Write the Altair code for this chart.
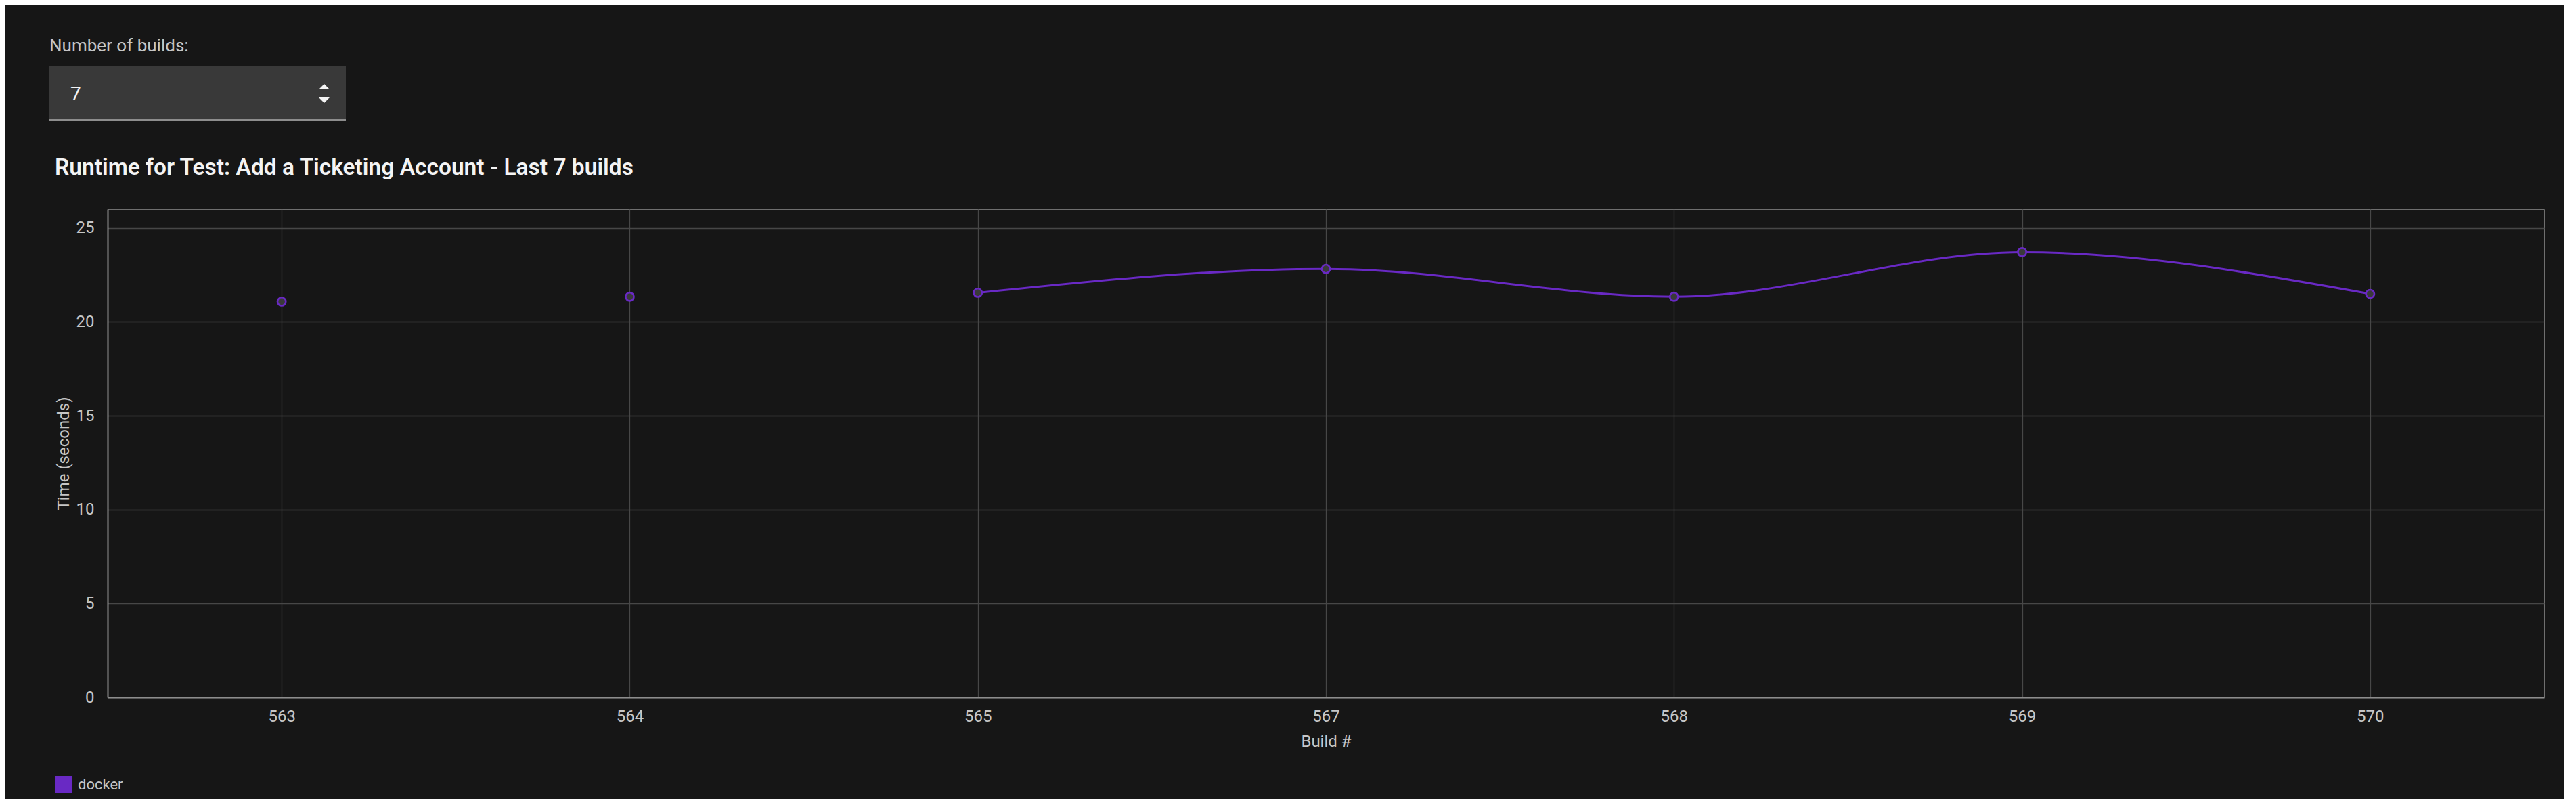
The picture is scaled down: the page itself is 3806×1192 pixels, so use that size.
import altair as alt
import pandas as pd

# ---- data ----
BUILDS = ["563", "564", "565", "567", "568", "569", "570"]
TIMES = [21.08, 21.34, 21.55, 22.82, 21.34, 23.71, 21.49]
CONNECTED = [False, False, True, True, True, True, True]
ENV = "docker"
Y_TICKS = [0, 5, 10, 15, 20, 25]
N_BUILDS = 7
TEST_NAME = "Add a Ticketing Account"
INPUT_LABEL = "Number of builds:"

TITLE = f"Runtime for Test: {TEST_NAME} - Last {N_BUILDS} builds"

df = pd.DataFrame({"build": BUILDS, "time": TIMES, "env": ENV, "connected": CONNECTED})
ui = pd.DataFrame({"label": [INPUT_LABEL], "value": [str(N_BUILDS)], "title": [TITLE]})

FONT = "Roboto"
PURPLE = "#6929c4"
BG = "#161616"
W, H = 3600, 721

x = alt.X(
    "build:O",
    sort=BUILDS,
    scale=alt.Scale(type="point", padding=0.5),
    axis=alt.Axis(
        title="Build #",
        labelAngle=0,
        grid=True,
        ticks=False,
        tickSize=0,
        labelPadding=16,
        titleX=W / 2,
        titleY=72,
        titleBaseline="alphabetic",
    ),
)
y = alt.Y(
    "time:Q",
    scale=alt.Scale(domain=[0, 26], nice=False, zero=True),
    axis=alt.Axis(
        title="Time (seconds)",
        values=Y_TICKS,
        grid=True,
        ticks=False,
        tickSize=0,
        labelPadding=20,
        titleX=-58,
        titleY=H / 2,
        titleBaseline="alphabetic",
    ),
)

line = (
    alt.Chart(df)
    .transform_filter("datum.connected")
    .mark_line(interpolate="monotone", strokeWidth=3)
    .encode(
        x=x,
        y=y,
        color=alt.Color(
            "env:N",
            scale=alt.Scale(range=[PURPLE]),
            legend=alt.Legend(
                title=None,
                orient="none",
                legendX=-78,
                legendY=837,
                symbolType="square",
                symbolSize=625,
                symbolFillColor=PURPLE,
                symbolStrokeColor=PURPLE,
                symbolStrokeWidth=0,
                symbolOpacity=1,
                labelFontSize=22,
                labelFont=FONT,
                labelColor="#c6c6c6",
                labelOffset=9,
                padding=0,
            ),
        ),
    )
)

points = (
    alt.Chart(df)
    .mark_point(filled=True, fill="#3a3a3a", stroke=PURPLE, strokeWidth=2.6, size=150, opacity=1, fillOpacity=1, strokeOpacity=1)
    .encode(x=x, y=y)
)

box = alt.Chart(ui).mark_rect(fill="#393939").encode(
    x=alt.value(-87), x2=alt.value(352), y=alt.value(-211), y2=alt.value(-133)
)
box_line = alt.Chart(ui).mark_rect(fill="#8d8d8d").encode(
    x=alt.value(-87), x2=alt.value(352), y=alt.value(-133), y2=alt.value(-131)
)
label_txt = alt.Chart(ui).mark_text(
    align="left", baseline="alphabetic", fontSize=26, font=FONT, color="#c6c6c6"
).encode(x=alt.value(-86), y=alt.value(-233), text="label:N")
value_txt = alt.Chart(ui).mark_text(
    align="left", baseline="alphabetic", fontSize=28, font=FONT, color="#f4f4f4"
).encode(x=alt.value(-55), y=alt.value(-161), text="value:N")
up = alt.Chart(ui).mark_point(
    shape="M-1,0.5L1,0.5L0,-0.5Z", filled=True, fill="#f4f4f4", size=256, opacity=1
).encode(x=alt.value(320), y=alt.value(-181))
down = alt.Chart(ui).mark_point(
    shape="M-1,-0.5L1,-0.5L0,0.5Z", filled=True, fill="#f4f4f4", size=256, opacity=1
).encode(x=alt.value(320), y=alt.value(-161))
title_txt = alt.Chart(ui).mark_text(
    align="left", baseline="alphabetic", fontSize=33.5, fontWeight=600, font=FONT, color="#f4f4f4"
).encode(x=alt.value(-78), y=alt.value(-51), text="title:N")

chart = (
    alt.layer(line, points, box, box_line, label_txt, value_txt, up, down, title_txt)
    .properties(
        width=W,
        height=H,
        autosize=alt.AutoSizeParams(type="none"),
        padding={"left": 151, "top": 301, "right": 30, "bottom": 150},
    )
    .configure(background=BG)
    .configure_view(stroke="#6f6f6f", strokeWidth=1)
    .configure_axis(
        labelFont=FONT,
        titleFont=FONT,
        labelFontSize=24,
        titleFontSize=24,
        titleFontWeight="normal",
        labelColor="#c6c6c6",
        titleColor="#c6c6c6",
        gridColor="#474747",
        gridWidth=1.3,
        domainColor="#8d8d8d",
        domainWidth=2,
    )
)

chart.save("out.html", embed_options={"renderer": "svg", "actions": False})
